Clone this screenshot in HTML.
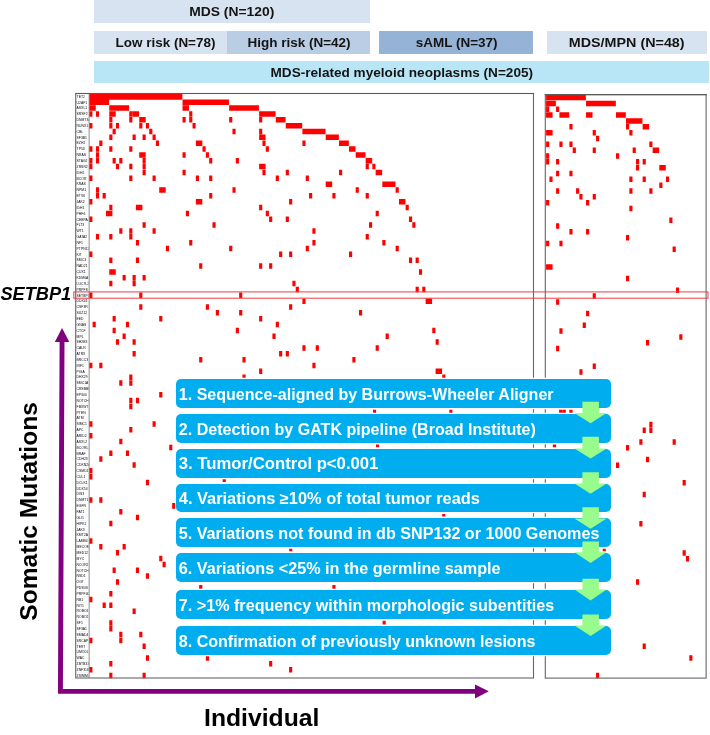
<!DOCTYPE html>
<html lang="en"><head><meta charset="utf-8"><title>Somatic mutations in MDS-related myeloid neoplasms</title>
<style>
html,body{margin:0;padding:0;background:#fff}
body{width:710px;height:735px;position:relative;overflow:hidden;font-family:"Liberation Sans",Arial,sans-serif;color:#111}
.hb{position:absolute}
.bx{position:absolute;left:175.9px;width:434.7px;background:#00aeef;border-radius:5px;box-shadow:0 0 0 1.35px #fff}
svg{position:absolute;left:0;top:0}
</style></head><body>
<div class="hb" style="left:94px;top:0;width:276.4px;height:22.7px; background:#d8e3f1"></div>
<div class="hb" style="left:94px;top:31.2px;width:132.6px;height:22.35px; background:#d8e3f1"></div>
<div class="hb" style="left:226.6px;top:31.2px;width:143.8px;height:22.35px; background:#b9cde5"></div>
<div class="hb" style="left:379px;top:31.2px;width:154.4px;height:22.35px; background:#95b3d7"></div>
<div class="hb" style="left:546.7px;top:31.2px;width:160px;height:22.35px; background:#d8e3f1"></div>
<div class="hb" style="left:94px;top:61.2px;width:614.6px;height:22.1px; background:#b8e6f7"></div>

<svg width="710" height="735" viewBox="0 0 710 735">
<path stroke="#e2eaf6" stroke-width="0.5" fill="none" d="M76.2 99.33H88.3M76.2 105.17H88.3M76.2 111.03H88.3M76.2 116.88H88.3M76.2 122.73H88.3M76.2 128.58H88.3M76.2 134.43H88.3M76.2 140.28H88.3M76.2 146.12H88.3M76.2 151.98H88.3M76.2 157.83H88.3M76.2 163.68H88.3M76.2 169.53H88.3M76.2 175.38H88.3M76.2 181.23H88.3M76.2 187.08H88.3M76.2 192.93H88.3M76.2 198.78H88.3M76.2 204.62H88.3M76.2 210.48H88.3M76.2 216.33H88.3M76.2 222.18H88.3M76.2 228.03H88.3M76.2 233.88H88.3M76.2 239.72H88.3M76.2 245.58H88.3M76.2 251.43H88.3M76.2 257.27H88.3M76.2 263.12H88.3M76.2 268.97H88.3M76.2 274.82H88.3M76.2 280.68H88.3M76.2 286.53H88.3M76.2 292.38H88.3M76.2 298.22H88.3M76.2 304.07H88.3M76.2 309.93H88.3M76.2 315.78H88.3M76.2 321.62H88.3M76.2 327.47H88.3M76.2 333.32H88.3M76.2 339.18H88.3M76.2 345.03H88.3M76.2 350.88H88.3M76.2 356.72H88.3M76.2 362.57H88.3M76.2 368.43H88.3M76.2 374.28H88.3M76.2 380.12H88.3M76.2 385.97H88.3M76.2 391.82H88.3M76.2 397.68H88.3M76.2 403.53H88.3M76.2 409.37H88.3M76.2 415.22H88.3M76.2 421.07H88.3M76.2 426.93H88.3M76.2 432.78H88.3M76.2 438.62H88.3M76.2 444.47H88.3M76.2 450.32H88.3M76.2 456.18H88.3M76.2 462.03H88.3M76.2 467.87H88.3M76.2 473.72H88.3M76.2 479.57H88.3M76.2 485.43H88.3M76.2 491.28H88.3M76.2 497.12H88.3M76.2 502.97H88.3M76.2 508.82H88.3M76.2 514.67H88.3M76.2 520.52H88.3M76.2 526.37H88.3M76.2 532.22H88.3M76.2 538.07H88.3M76.2 543.92H88.3M76.2 549.77H88.3M76.2 555.62H88.3M76.2 561.47H88.3M76.2 567.32H88.3M76.2 573.17H88.3M76.2 579.02H88.3M76.2 584.87H88.3M76.2 590.72H88.3M76.2 596.57H88.3M76.2 602.42H88.3M76.2 608.27H88.3M76.2 614.12H88.3M76.2 619.97H88.3M76.2 625.82H88.3M76.2 631.67H88.3M76.2 637.52H88.3M76.2 643.37H88.3M76.2 649.22H88.3M76.2 655.07H88.3M76.2 660.92H88.3M76.2 666.77H88.3M76.2 672.62H88.3"/>
<clipPath id="lc"><rect x="76" y="94" width="12.6" height="584"/></clipPath>
<g clip-path="url(#lc)" font-family="'Liberation Sans',Arial,sans-serif" font-size="3.4" fill="#000">
<text x="76.6" y="97.65">TET2</text>
<text x="76.6" y="103.50">U2AF1</text>
<text x="76.6" y="109.35">ASXL1</text>
<text x="76.6" y="115.20">SRSF2</text>
<text x="76.6" y="121.05">DNMT3A</text>
<text x="76.6" y="126.90">RUNX1</text>
<text x="76.6" y="132.75">CBL</text>
<text x="76.6" y="138.60">SF3B1</text>
<text x="76.6" y="144.45">EZH2</text>
<text x="76.6" y="150.30">TP53</text>
<text x="76.6" y="156.15">NRAS</text>
<text x="76.6" y="162.00">STAG2</text>
<text x="76.6" y="167.85">ZRSR2</text>
<text x="76.6" y="173.70">IDH2</text>
<text x="76.6" y="179.55">BCOR</text>
<text x="76.6" y="185.40">KRAS</text>
<text x="76.6" y="191.25">NPM1</text>
<text x="76.6" y="197.10">ETV6</text>
<text x="76.6" y="202.95">JAK2</text>
<text x="76.6" y="208.80">IDH1</text>
<text x="76.6" y="214.65">PHF6</text>
<text x="76.6" y="220.50">CEBPA</text>
<text x="76.6" y="226.35">FLT3</text>
<text x="76.6" y="232.20">WT1</text>
<text x="76.6" y="238.05">GATA2</text>
<text x="76.6" y="243.90">NF1</text>
<text x="76.6" y="249.75">PTPN11</text>
<text x="76.6" y="255.60">KIT</text>
<text x="76.6" y="261.45">SMC3</text>
<text x="76.6" y="267.30">RAD21</text>
<text x="76.6" y="273.15">CUX1</text>
<text x="76.6" y="279.00">KDM6A</text>
<text x="76.6" y="284.85">LUC7L2</text>
<text x="76.6" y="290.70">PRPF8</text>
<text x="76.6" y="296.55">SETBP1</text>
<text x="76.6" y="302.40">DDX41</text>
<text x="76.6" y="308.25">CSF3R</text>
<text x="76.6" y="314.10">SUZ12</text>
<text x="76.6" y="319.95">EED</text>
<text x="76.6" y="325.80">GNAS</text>
<text x="76.6" y="331.65">CTCF</text>
<text x="76.6" y="337.50">MPL</text>
<text x="76.6" y="343.35">SH2B3</text>
<text x="76.6" y="349.20">CALR</text>
<text x="76.6" y="355.05">ATRX</text>
<text x="76.6" y="360.90">BRCC3</text>
<text x="76.6" y="366.75">IRF1</text>
<text x="76.6" y="372.60">PIGA</text>
<text x="76.6" y="378.45">DHX29</text>
<text x="76.6" y="384.30">SMC1A</text>
<text x="76.6" y="390.15">CREBBP</text>
<text x="76.6" y="396.00">EP300</text>
<text x="76.6" y="401.85">NOTCH1</text>
<text x="76.6" y="407.70">FBXW7</text>
<text x="76.6" y="413.55">PTEN</text>
<text x="76.6" y="419.40">ATM</text>
<text x="76.6" y="425.25">SIMC1</text>
<text x="76.6" y="431.10">APC</text>
<text x="76.6" y="436.95">ARID2</text>
<text x="76.6" y="442.80">ASXL2</text>
<text x="76.6" y="448.65">BCORL1</text>
<text x="76.6" y="454.50">BRAF</text>
<text x="76.6" y="460.35">CDH23</text>
<text x="76.6" y="466.20">CDKN2A</text>
<text x="76.6" y="472.05">CSMD1</text>
<text x="76.6" y="477.90">CUL1</text>
<text x="76.6" y="483.75">DCLK1</text>
<text x="76.6" y="489.60">DDX54</text>
<text x="76.6" y="495.45">DIS3</text>
<text x="76.6" y="501.30">DNMT1</text>
<text x="76.6" y="507.15">EGFR</text>
<text x="76.6" y="513.00">FAT1</text>
<text x="76.6" y="518.85">GLI1</text>
<text x="76.6" y="524.70">HIPK2</text>
<text x="76.6" y="530.55">JAK3</text>
<text x="76.6" y="536.40">KMT2A</text>
<text x="76.6" y="542.25">LAMB4</text>
<text x="76.6" y="548.10">MECOM</text>
<text x="76.6" y="553.95">MED12</text>
<text x="76.6" y="559.80">MYC</text>
<text x="76.6" y="565.65">NCOR2</text>
<text x="76.6" y="571.50">NOTCH2</text>
<text x="76.6" y="577.35">NSD1</text>
<text x="76.6" y="583.20">OGT</text>
<text x="76.6" y="589.05">PDS5B</text>
<text x="76.6" y="594.90">PRPF40B</text>
<text x="76.6" y="600.75">RB1</text>
<text x="76.6" y="606.60">RIT1</text>
<text x="76.6" y="612.45">ROBO1</text>
<text x="76.6" y="618.30">ROBO2</text>
<text x="76.6" y="624.15">SF1</text>
<text x="76.6" y="630.00">SF3A1</text>
<text x="76.6" y="635.85">SMAD4</text>
<text x="76.6" y="641.70">SRCAP</text>
<text x="76.6" y="647.55">TERT</text>
<text x="76.6" y="653.40">UMODL1</text>
<text x="76.6" y="659.25">WAC</text>
<text x="76.6" y="665.10">ZBTB33</text>
<text x="76.6" y="670.95">ZNF318</text>
<text x="76.6" y="676.80">ZSWIM4</text>
</g>
<path fill="#ff0000" d="M89.28 93.65h3.33v6.10h-3.33zM92.61 93.65h3.33v6.10h-3.33zM95.94 93.65h3.33v6.10h-3.33zM99.27 93.65h3.33v6.10h-3.33zM102.60 93.65h3.33v6.10h-3.33zM105.93 93.65h3.33v6.10h-3.33zM109.26 93.65h3.33v6.10h-3.33zM112.59 93.65h3.33v6.10h-3.33zM115.92 93.65h3.33v6.10h-3.33zM119.25 93.65h3.33v6.10h-3.33zM122.58 93.65h3.33v6.10h-3.33zM125.91 93.65h3.33v6.10h-3.33zM129.24 93.65h3.33v6.10h-3.33zM132.57 93.65h3.33v6.10h-3.33zM135.90 93.65h3.33v6.10h-3.33zM139.23 93.65h3.33v6.10h-3.33zM142.56 93.65h3.33v6.10h-3.33zM145.89 93.65h3.33v6.10h-3.33zM149.22 93.65h3.33v6.10h-3.33zM152.55 93.65h3.33v6.10h-3.33zM155.88 93.65h3.33v6.10h-3.33zM159.21 93.65h3.33v6.10h-3.33zM162.54 93.65h3.33v6.10h-3.33zM165.87 93.65h3.33v6.10h-3.33zM169.20 93.65h3.33v6.10h-3.33zM172.53 93.65h3.33v6.10h-3.33zM175.86 93.65h3.33v6.10h-3.33zM179.19 93.65h3.15v6.10h-3.15zM89.28 99.50h3.33v5.50h-3.33zM92.61 99.50h3.33v5.50h-3.33zM95.94 99.50h3.33v5.50h-3.33zM99.27 99.50h3.33v5.50h-3.33zM102.60 99.50h3.33v5.50h-3.33zM105.93 99.50h3.15v5.50h-3.15zM182.52 99.50h3.33v5.50h-3.33zM185.85 99.50h3.33v5.50h-3.33zM189.18 99.50h3.33v5.50h-3.33zM192.51 99.50h3.33v5.50h-3.33zM195.84 99.50h3.33v5.50h-3.33zM199.17 99.50h3.33v5.50h-3.33zM202.50 99.50h3.33v5.50h-3.33zM205.83 99.50h3.33v5.50h-3.33zM209.16 99.50h3.33v5.50h-3.33zM212.49 99.50h3.33v5.50h-3.33zM215.82 99.50h3.33v5.50h-3.33zM219.15 99.50h3.33v5.50h-3.33zM222.48 99.50h3.33v5.50h-3.33zM225.81 99.50h3.15v5.50h-3.15zM89.28 105.35h3.33v5.50h-3.33zM92.61 105.35h3.15v5.50h-3.15zM109.26 105.35h3.33v5.50h-3.33zM112.59 105.35h3.33v5.50h-3.33zM115.92 105.35h3.33v5.50h-3.33zM119.25 105.35h3.33v5.50h-3.33zM122.58 105.35h3.33v5.50h-3.33zM125.91 105.35h3.15v5.50h-3.15zM182.52 105.35h3.33v5.50h-3.33zM185.85 105.35h3.15v5.50h-3.15zM229.14 105.35h3.33v5.50h-3.33zM232.47 105.35h3.33v5.50h-3.33zM235.80 105.35h3.33v5.50h-3.33zM239.13 105.35h3.33v5.50h-3.33zM242.46 105.35h3.33v5.50h-3.33zM245.79 105.35h3.33v5.50h-3.33zM249.12 105.35h3.33v5.50h-3.33zM252.45 105.35h3.33v5.50h-3.33zM255.78 105.35h3.15v5.50h-3.15zM89.28 111.20h3.15v5.50h-3.15zM95.94 111.20h3.15v5.50h-3.15zM109.26 111.20h3.33v5.50h-3.33zM112.59 111.20h3.15v5.50h-3.15zM129.24 111.20h3.15v5.50h-3.15zM132.57 111.20h3.33v5.50h-3.33zM135.90 111.20h3.15v5.50h-3.15zM189.18 111.20h3.15v5.50h-3.15zM259.11 111.20h3.33v5.50h-3.33zM262.44 111.20h3.33v5.50h-3.33zM265.77 111.20h3.33v5.50h-3.33zM269.10 111.20h3.33v5.50h-3.33zM272.43 111.20h3.15v5.50h-3.15zM109.26 117.05h3.15v5.50h-3.15zM129.24 117.05h3.15v5.50h-3.15zM139.23 117.05h3.33v5.50h-3.33zM142.56 117.05h3.15v5.50h-3.15zM182.52 117.05h3.15v5.50h-3.15zM189.18 117.05h3.15v5.50h-3.15zM229.14 117.05h3.15v5.50h-3.15zM259.11 117.05h3.15v5.50h-3.15zM275.76 117.05h3.33v5.50h-3.33zM279.09 117.05h3.33v5.50h-3.33zM282.42 117.05h3.15v5.50h-3.15zM89.28 122.90h3.15v5.50h-3.15zM109.26 122.90h3.15v5.50h-3.15zM115.92 122.90h3.15v5.50h-3.15zM139.23 122.90h3.15v5.50h-3.15zM145.89 122.90h3.15v5.50h-3.15zM192.51 122.90h3.15v5.50h-3.15zM285.75 122.90h3.33v5.50h-3.33zM289.08 122.90h3.33v5.50h-3.33zM292.41 122.90h3.33v5.50h-3.33zM295.74 122.90h3.33v5.50h-3.33zM299.07 122.90h3.15v5.50h-3.15zM112.59 128.75h3.15v5.50h-3.15zM149.22 128.75h3.15v5.50h-3.15zM232.47 128.75h3.15v5.50h-3.15zM259.11 128.75h3.15v5.50h-3.15zM302.40 128.75h3.33v5.50h-3.33zM305.73 128.75h3.33v5.50h-3.33zM309.06 128.75h3.33v5.50h-3.33zM312.39 128.75h3.33v5.50h-3.33zM315.72 128.75h3.33v5.50h-3.33zM319.05 128.75h3.33v5.50h-3.33zM322.38 128.75h3.15v5.50h-3.15zM109.26 134.60h3.15v5.50h-3.15zM132.57 134.60h3.15v5.50h-3.15zM142.56 134.60h3.15v5.50h-3.15zM152.55 134.60h3.15v5.50h-3.15zM259.11 134.60h3.33v5.50h-3.33zM262.44 134.60h3.15v5.50h-3.15zM325.71 134.60h3.33v5.50h-3.33zM329.04 134.60h3.33v5.50h-3.33zM332.37 134.60h3.33v5.50h-3.33zM335.70 134.60h3.15v5.50h-3.15zM99.27 140.45h3.15v5.50h-3.15zM155.88 140.45h3.15v5.50h-3.15zM195.84 140.45h3.33v5.50h-3.33zM199.17 140.45h3.15v5.50h-3.15zM262.44 140.45h3.15v5.50h-3.15zM302.40 140.45h3.15v5.50h-3.15zM339.03 140.45h3.33v5.50h-3.33zM342.36 140.45h3.33v5.50h-3.33zM345.69 140.45h3.15v5.50h-3.15zM89.28 146.30h3.15v5.50h-3.15zM95.94 146.30h3.15v5.50h-3.15zM109.26 146.30h3.15v5.50h-3.15zM129.24 146.30h3.15v5.50h-3.15zM202.50 146.30h3.15v5.50h-3.15zM265.77 146.30h3.15v5.50h-3.15zM349.02 146.30h3.33v5.50h-3.33zM352.35 146.30h3.15v5.50h-3.15zM95.94 152.15h3.15v5.50h-3.15zM139.23 152.15h3.33v5.50h-3.33zM142.56 152.15h3.15v5.50h-3.15zM182.52 152.15h3.15v5.50h-3.15zM205.83 152.15h3.15v5.50h-3.15zM355.68 152.15h3.33v5.50h-3.33zM359.01 152.15h3.33v5.50h-3.33zM362.34 152.15h3.15v5.50h-3.15zM89.28 158.00h3.15v5.50h-3.15zM95.94 158.00h3.15v5.50h-3.15zM112.59 158.00h3.15v5.50h-3.15zM119.25 158.00h3.15v5.50h-3.15zM142.56 158.00h3.15v5.50h-3.15zM209.16 158.00h3.15v5.50h-3.15zM235.80 158.00h3.15v5.50h-3.15zM365.67 158.00h3.33v5.50h-3.33zM369.00 158.00h3.15v5.50h-3.15zM89.28 163.85h3.15v5.50h-3.15zM115.92 163.85h3.15v5.50h-3.15zM129.24 163.85h3.15v5.50h-3.15zM142.56 163.85h3.15v5.50h-3.15zM259.11 163.85h3.33v5.50h-3.33zM262.44 163.85h3.15v5.50h-3.15zM365.67 163.85h3.15v5.50h-3.15zM372.33 163.85h3.15v5.50h-3.15zM142.56 169.70h3.15v5.50h-3.15zM182.52 169.70h3.15v5.50h-3.15zM262.44 169.70h3.15v5.50h-3.15zM285.75 169.70h3.15v5.50h-3.15zM339.03 169.70h3.15v5.50h-3.15zM375.66 169.70h3.33v5.50h-3.33zM378.99 169.70h3.15v5.50h-3.15zM89.28 175.55h3.15v5.50h-3.15zM129.24 175.55h3.15v5.50h-3.15zM152.55 175.55h3.15v5.50h-3.15zM195.84 175.55h3.15v5.50h-3.15zM209.16 175.55h3.15v5.50h-3.15zM275.76 175.55h3.15v5.50h-3.15zM305.73 175.55h3.15v5.50h-3.15zM325.71 181.40h3.33v5.50h-3.33zM329.04 181.40h3.15v5.50h-3.15zM382.32 181.40h3.33v5.50h-3.33zM385.65 181.40h3.33v5.50h-3.33zM388.98 181.40h3.33v5.50h-3.33zM392.31 181.40h3.15v5.50h-3.15zM95.94 187.25h3.15v5.50h-3.15zM159.21 187.25h3.33v5.50h-3.33zM162.54 187.25h3.15v5.50h-3.15zM232.47 187.25h3.15v5.50h-3.15zM355.68 187.25h3.15v5.50h-3.15zM395.64 187.25h3.15v5.50h-3.15zM95.94 193.10h3.15v5.50h-3.15zM102.60 193.10h3.15v5.50h-3.15zM209.16 193.10h3.15v5.50h-3.15zM309.06 193.10h3.15v5.50h-3.15zM332.37 193.10h3.15v5.50h-3.15zM365.67 193.10h3.15v5.50h-3.15zM89.28 198.95h3.15v5.50h-3.15zM195.84 198.95h3.33v5.50h-3.33zM199.17 198.95h3.15v5.50h-3.15zM289.08 198.95h3.15v5.50h-3.15zM398.97 198.95h3.33v5.50h-3.33zM402.30 198.95h3.15v5.50h-3.15zM109.26 204.80h3.15v5.50h-3.15zM135.90 204.80h3.33v5.50h-3.33zM139.23 204.80h3.15v5.50h-3.15zM259.11 204.80h3.15v5.50h-3.15zM405.63 204.80h3.15v5.50h-3.15zM105.93 210.65h3.33v5.50h-3.33zM109.26 210.65h3.15v5.50h-3.15zM185.85 210.65h3.15v5.50h-3.15zM265.77 210.65h3.15v5.50h-3.15zM375.66 210.65h3.15v5.50h-3.15zM89.28 216.50h3.15v5.50h-3.15zM269.10 216.50h3.15v5.50h-3.15zM285.75 216.50h3.15v5.50h-3.15zM408.96 216.50h3.15v5.50h-3.15zM142.56 222.35h3.15v5.50h-3.15zM212.49 222.35h3.15v5.50h-3.15zM369.00 222.35h3.15v5.50h-3.15zM412.29 222.35h3.15v5.50h-3.15zM119.25 228.20h3.15v5.50h-3.15zM129.24 228.20h3.15v5.50h-3.15zM152.55 228.20h3.15v5.50h-3.15zM312.39 228.20h3.15v5.50h-3.15zM95.94 234.05h3.15v5.50h-3.15zM109.26 234.05h3.15v5.50h-3.15zM129.24 234.05h3.15v5.50h-3.15zM365.67 234.05h3.15v5.50h-3.15zM135.90 239.90h3.15v5.50h-3.15zM189.18 239.90h3.15v5.50h-3.15zM312.39 239.90h3.15v5.50h-3.15zM382.32 239.90h3.15v5.50h-3.15zM165.87 245.75h3.15v5.50h-3.15zM229.14 245.75h3.15v5.50h-3.15zM305.73 245.75h3.15v5.50h-3.15zM395.64 245.75h3.15v5.50h-3.15zM89.28 251.60h3.15v5.50h-3.15zM279.09 251.60h3.15v5.50h-3.15zM289.08 251.60h3.15v5.50h-3.15zM349.02 251.60h3.15v5.50h-3.15zM109.26 257.45h3.15v5.50h-3.15zM135.90 257.45h3.15v5.50h-3.15zM408.96 257.45h3.15v5.50h-3.15zM415.62 257.45h3.15v5.50h-3.15zM199.17 263.30h3.15v5.50h-3.15zM259.11 263.30h3.15v5.50h-3.15zM269.10 263.30h3.15v5.50h-3.15zM109.26 269.15h3.33v5.50h-3.33zM112.59 269.15h3.15v5.50h-3.15zM418.95 269.15h3.15v5.50h-3.15zM122.58 275.00h3.15v5.50h-3.15zM132.57 275.00h3.15v5.50h-3.15zM142.56 275.00h3.15v5.50h-3.15zM109.26 280.85h3.15v5.50h-3.15zM132.57 280.85h3.15v5.50h-3.15zM292.41 280.85h3.15v5.50h-3.15zM295.74 286.70h3.15v5.50h-3.15zM415.62 286.70h3.15v5.50h-3.15zM422.28 286.70h3.15v5.50h-3.15zM89.28 292.55h3.15v5.50h-3.15zM139.23 292.55h3.15v5.50h-3.15zM239.13 292.55h3.15v5.50h-3.15zM302.40 298.40h3.15v5.50h-3.15zM425.61 298.40h3.33v5.50h-3.33zM428.94 298.40h3.15v5.50h-3.15zM139.23 304.25h3.15v5.50h-3.15zM205.83 304.25h3.15v5.50h-3.15zM289.08 304.25h3.15v5.50h-3.15zM215.82 310.10h3.15v5.50h-3.15zM239.13 310.10h3.15v5.50h-3.15zM359.01 310.10h3.15v5.50h-3.15zM112.59 315.95h3.15v5.50h-3.15zM159.21 315.95h3.15v5.50h-3.15zM259.11 315.95h3.15v5.50h-3.15zM92.61 321.80h3.15v5.50h-3.15zM125.91 321.80h3.15v5.50h-3.15zM275.76 321.80h3.15v5.50h-3.15zM112.59 327.65h3.15v5.50h-3.15zM235.80 327.65h3.15v5.50h-3.15zM432.27 327.65h3.15v5.50h-3.15zM122.58 333.50h3.15v5.50h-3.15zM272.43 333.50h3.15v5.50h-3.15zM385.65 333.50h3.15v5.50h-3.15zM115.92 339.35h3.15v5.50h-3.15zM132.57 339.35h3.15v5.50h-3.15zM435.60 339.35h3.15v5.50h-3.15zM302.40 345.20h3.15v5.50h-3.15zM315.72 345.20h3.15v5.50h-3.15zM375.66 345.20h3.15v5.50h-3.15zM132.57 351.05h3.15v5.50h-3.15zM279.09 351.05h3.15v5.50h-3.15zM285.75 351.05h3.15v5.50h-3.15zM199.17 356.90h3.15v5.50h-3.15zM242.46 356.90h3.15v5.50h-3.15zM352.35 356.90h3.15v5.50h-3.15zM89.28 362.75h3.15v5.50h-3.15zM99.27 362.75h3.15v5.50h-3.15zM312.39 362.75h3.15v5.50h-3.15zM259.11 368.60h3.15v5.50h-3.15zM435.60 368.60h3.33v5.50h-3.33zM438.93 368.60h3.15v5.50h-3.15zM129.24 374.45h3.15v5.50h-3.15zM242.46 374.45h3.15v5.50h-3.15zM442.26 374.45h3.15v5.50h-3.15zM119.25 380.30h3.15v5.50h-3.15zM129.24 380.30h3.15v5.50h-3.15zM159.21 392.00h3.15v5.50h-3.15zM129.24 397.85h3.15v5.50h-3.15zM135.90 397.85h3.15v5.50h-3.15zM129.24 403.70h3.15v5.50h-3.15zM89.28 421.25h3.15v5.50h-3.15zM152.55 421.25h3.15v5.50h-3.15zM129.24 427.10h3.15v5.50h-3.15zM89.28 432.95h3.15v5.50h-3.15zM119.25 438.80h3.15v5.50h-3.15zM169.20 444.65h3.15v5.50h-3.15zM109.26 450.50h3.15v5.50h-3.15zM125.91 450.50h3.15v5.50h-3.15zM99.27 456.35h3.15v5.50h-3.15zM132.57 462.20h3.15v5.50h-3.15zM89.28 468.05h3.15v5.50h-3.15zM89.28 473.90h3.15v5.50h-3.15zM145.89 479.75h3.15v5.50h-3.15zM89.28 497.30h3.15v5.50h-3.15zM99.27 497.30h3.15v5.50h-3.15zM172.53 503.15h3.15v5.50h-3.15zM119.25 509.00h3.15v5.50h-3.15zM135.90 514.85h3.15v5.50h-3.15zM109.26 520.70h3.15v5.50h-3.15zM89.28 538.25h3.15v5.50h-3.15zM99.27 544.10h3.15v5.50h-3.15zM122.58 544.10h3.15v5.50h-3.15zM115.92 549.95h3.15v5.50h-3.15zM159.21 555.80h3.15v5.50h-3.15zM162.54 561.65h3.15v5.50h-3.15zM112.59 567.50h3.15v5.50h-3.15zM135.90 567.50h3.15v5.50h-3.15zM145.89 573.35h3.15v5.50h-3.15zM115.92 579.20h3.15v5.50h-3.15zM199.17 585.05h3.15v5.50h-3.15zM332.37 585.05h3.15v5.50h-3.15zM109.26 590.90h3.15v5.50h-3.15zM89.28 596.75h3.15v5.50h-3.15zM102.60 602.60h3.15v5.50h-3.15zM109.26 602.60h3.15v5.50h-3.15zM132.57 608.45h3.15v5.50h-3.15zM109.26 620.15h3.15v5.50h-3.15zM109.26 626.00h3.15v5.50h-3.15zM119.25 631.85h3.15v5.50h-3.15zM139.23 631.85h3.15v5.50h-3.15zM89.28 637.70h3.15v5.50h-3.15zM119.25 637.70h3.15v5.50h-3.15zM142.56 643.55h3.15v5.50h-3.15zM145.89 655.25h3.15v5.50h-3.15zM205.83 655.25h3.15v5.50h-3.15zM109.26 661.10h3.15v5.50h-3.15zM269.10 661.10h3.15v5.50h-3.15zM89.28 666.95h3.15v5.50h-3.15zM289.08 666.95h3.15v5.50h-3.15zM109.26 672.80h3.15v5.50h-3.15zM142.56 672.80h3.15v5.50h-3.15z"/>
<path fill="#ff0000" d="M546.08 94.85h3.33v5.50h-3.33zM549.41 94.85h3.33v5.50h-3.33zM552.74 94.85h3.33v5.50h-3.33zM556.07 94.85h3.33v5.50h-3.33zM559.40 94.85h3.33v5.50h-3.33zM562.73 94.85h3.33v5.50h-3.33zM566.06 94.85h3.33v5.50h-3.33zM569.39 94.85h3.33v5.50h-3.33zM572.72 94.85h3.33v5.50h-3.33zM576.05 94.85h3.33v5.50h-3.33zM579.38 94.85h3.33v5.50h-3.33zM582.71 94.85h3.15v5.50h-3.15zM546.08 100.69h3.33v5.50h-3.33zM549.41 100.69h3.33v5.50h-3.33zM552.74 100.69h3.15v5.50h-3.15zM586.04 100.69h3.33v5.50h-3.33zM589.37 100.69h3.33v5.50h-3.33zM592.70 100.69h3.33v5.50h-3.33zM596.03 100.69h3.33v5.50h-3.33zM599.36 100.69h3.33v5.50h-3.33zM602.69 100.69h3.33v5.50h-3.33zM606.02 100.69h3.33v5.50h-3.33zM609.35 100.69h3.33v5.50h-3.33zM612.68 100.69h3.15v5.50h-3.15zM546.08 106.52h3.15v5.50h-3.15zM556.07 106.52h3.15v5.50h-3.15zM546.08 112.36h3.33v5.50h-3.33zM549.41 112.36h3.15v5.50h-3.15zM559.40 112.36h3.33v5.50h-3.33zM562.73 112.36h3.33v5.50h-3.33zM566.06 112.36h3.15v5.50h-3.15zM586.04 112.36h3.33v5.50h-3.33zM589.37 112.36h3.15v5.50h-3.15zM616.01 112.36h3.33v5.50h-3.33zM619.34 112.36h3.33v5.50h-3.33zM622.67 112.36h3.15v5.50h-3.15zM626.00 118.20h3.33v5.50h-3.33zM629.33 118.20h3.33v5.50h-3.33zM632.66 118.20h3.33v5.50h-3.33zM635.99 118.20h3.33v5.50h-3.33zM639.32 118.20h3.15v5.50h-3.15zM569.39 124.04h3.15v5.50h-3.15zM626.00 124.04h3.15v5.50h-3.15zM642.65 124.04h3.33v5.50h-3.33zM645.98 124.04h3.15v5.50h-3.15zM546.08 129.88h3.33v5.50h-3.33zM549.41 129.88h3.15v5.50h-3.15zM592.70 129.88h3.15v5.50h-3.15zM629.33 129.88h3.15v5.50h-3.15zM596.03 135.71h3.15v5.50h-3.15zM546.08 141.55h3.15v5.50h-3.15zM559.40 141.55h3.15v5.50h-3.15zM569.39 141.55h3.15v5.50h-3.15zM649.31 141.55h3.15v5.50h-3.15zM572.72 147.39h3.15v5.50h-3.15zM592.70 147.39h3.15v5.50h-3.15zM632.66 147.39h3.15v5.50h-3.15zM652.64 147.39h3.33v5.50h-3.33zM655.97 147.39h3.15v5.50h-3.15zM546.08 153.22h3.15v5.50h-3.15zM616.01 153.22h3.15v5.50h-3.15zM546.08 159.06h3.15v5.50h-3.15zM556.07 159.06h3.15v5.50h-3.15zM635.99 159.06h3.15v5.50h-3.15zM642.65 159.06h3.15v5.50h-3.15zM635.99 164.90h3.15v5.50h-3.15zM659.30 164.90h3.33v5.50h-3.33zM662.63 164.90h3.15v5.50h-3.15zM556.07 170.74h3.15v5.50h-3.15zM569.39 170.74h3.15v5.50h-3.15zM549.41 176.57h3.15v5.50h-3.15zM629.33 176.57h3.15v5.50h-3.15zM642.65 176.57h3.15v5.50h-3.15zM665.96 176.57h3.15v5.50h-3.15zM659.30 182.41h3.15v5.50h-3.15zM556.07 188.25h3.15v5.50h-3.15zM576.05 188.25h3.15v5.50h-3.15zM629.33 188.25h3.15v5.50h-3.15zM649.31 188.25h3.15v5.50h-3.15zM579.38 194.09h3.15v5.50h-3.15zM592.70 194.09h3.15v5.50h-3.15zM546.08 199.93h3.15v5.50h-3.15zM586.04 199.93h3.15v5.50h-3.15zM629.33 205.76h3.15v5.50h-3.15zM669.29 217.44h3.15v5.50h-3.15zM556.07 223.28h3.15v5.50h-3.15zM569.39 229.11h3.15v5.50h-3.15zM586.04 229.11h3.15v5.50h-3.15zM626.00 234.95h3.15v5.50h-3.15zM546.08 240.79h3.15v5.50h-3.15zM559.40 240.79h3.15v5.50h-3.15zM672.62 246.62h3.15v5.50h-3.15zM546.08 264.14h3.33v5.50h-3.33zM549.41 264.14h3.15v5.50h-3.15zM626.00 275.81h3.15v5.50h-3.15zM675.95 287.49h3.15v5.50h-3.15zM592.70 293.33h3.15v5.50h-3.15zM556.07 299.16h3.15v5.50h-3.15zM586.04 310.84h3.15v5.50h-3.15zM582.71 322.51h3.15v5.50h-3.15zM559.40 328.35h3.15v5.50h-3.15zM679.28 334.19h3.15v5.50h-3.15zM645.98 340.02h3.15v5.50h-3.15zM556.07 345.86h3.15v5.50h-3.15zM592.70 363.38h3.15v5.50h-3.15zM579.38 369.21h3.15v5.50h-3.15zM649.31 421.75h3.15v5.50h-3.15zM642.65 427.59h3.15v5.50h-3.15zM649.31 427.59h3.15v5.50h-3.15zM639.32 439.26h3.15v5.50h-3.15zM672.62 439.26h3.15v5.50h-3.15zM626.00 445.10h3.15v5.50h-3.15zM645.98 456.77h3.15v5.50h-3.15zM616.01 462.61h3.15v5.50h-3.15zM682.61 480.12h3.15v5.50h-3.15zM642.65 491.80h3.15v5.50h-3.15zM639.32 520.99h3.15v5.50h-3.15zM682.61 550.18h3.15v5.50h-3.15zM685.94 556.01h3.15v5.50h-3.15zM635.99 579.36h3.15v5.50h-3.15zM642.65 643.58h3.15v5.50h-3.15zM689.27 655.25h3.15v5.50h-3.15zM596.03 672.76h3.15v5.50h-3.15z"/>
<g fill="none" stroke="#666" stroke-width="1.1"><rect x="75.7" y="93.5" width="457.8" height="584.5"/><rect x="545.3" y="94.6" width="160.8" height="583.5"/><path stroke="#707070" stroke-width="0.8" d="M89.15 94V678"/><path stroke="#5a5a5a" d="M75.2 93.5H534M544.8 94.6H706.8"/></g>
<rect x="73.8" y="291.9" width="634.2" height="6.3" fill="none" stroke="#ee3d40" stroke-width="1"/>
</svg>
<div class="bx" style="top:379.3px;height:28.8px"></div>
<div class="bx" style="top:414.0px;height:29.0px"></div>
<div class="bx" style="top:449.0px;height:28.6px"></div>
<div class="bx" style="top:483.9px;height:28.6px"></div>
<div class="bx" style="top:518.3px;height:29.0px"></div>
<div class="bx" style="top:552.8px;height:29.1px"></div>
<div class="bx" style="top:590.1px;height:29.2px"></div>
<div class="bx" style="top:626.1px;height:29.2px"></div>
<svg width="710" height="735" viewBox="0 0 710 735">
<path fill="#ff0000" d="M373.0 409.8h3.1v2.9h-3.1zM449.3 409.8h3.1v2.9h-3.1zM376.0 444.4h3.1v2.9h-3.1zM559.1 409.8h3.2v2.9h-3.2zM562.5 409.8h3.3v2.9h-3.3zM569.3 409.8h3.3v2.9h-3.3zM552.8 444.4h3.3v2.9h-3.3zM222.7 479.3h3.1v2.7h-3.1zM442.2 514.0h3.1v2.6h-3.1zM289.2 548.8h3.1v2.4h-3.1zM602.7 548.8h3.1v2.4h-3.1zM382.6 620.7h3.1v3.8h-3.1zM172.3 503.0h2.9v5.6h-2.9z"/>
<path fill="#98fc8c" d="M582.4 401.7H598.9V413.1H606.6L590.6 423.2L574.4 413.1H582.4zM582.4 436.7H598.9V448.4H606.6L590.6 458.5L574.4 448.4H582.4zM582.4 472.3H598.9V483.6H606.6L590.6 493.8L574.4 483.6H582.4zM582.4 507.2H598.9V518.6H606.6L590.6 528.7L574.4 518.6H582.4zM582.4 541.4H598.9V552.3H606.6L590.6 563.0L574.4 552.3H582.4zM582.4 578.7H598.9V589.6H606.6L590.6 600.5L574.4 589.6H582.4zM582.4 614.5H598.9V625.4H606.6L590.6 636.0L574.4 625.4H582.4z"/>
<path fill="#800080" d="M59.6 341.5H64.5L62.9 688.9H475V684.4L488.8 691.3L475 698.4V693.8H57.95z"/>
<path fill="#800080" d="M62.05 328L69.3 342H54.8z"/>
</svg>
<svg width="710" height="735" viewBox="0 0 710 735" font-family="'Liberation Sans',Arial,sans-serif" font-weight="bold">
<g font-size="13" fill="#141414">
<text id="h0" x="189.2" y="16.2" textLength="85.2" lengthAdjust="spacingAndGlyphs">MDS (N=120)</text>
<text id="h1" x="115.6" y="47.1" textLength="99.8" lengthAdjust="spacingAndGlyphs">Low risk (N=78)</text>
<text id="h2" x="247.5" y="47.1" textLength="103.1" lengthAdjust="spacingAndGlyphs">High risk (N=42)</text>
<text id="h3" x="415.8" y="47.1" textLength="81.8" lengthAdjust="spacingAndGlyphs">sAML (N=37)</text>
<text id="h4" x="568.8" y="47.1" textLength="115.8" lengthAdjust="spacingAndGlyphs">MDS/MPN (N=48)</text>
<text id="h5" x="270.5" y="77.1" textLength="262.6" lengthAdjust="spacingAndGlyphs">MDS-related myeloid neoplasms (N=205)</text>
</g>
<g font-size="15.8" fill="#fff">
<text id="bt0" x="178.8" y="399.85" textLength="374.8" lengthAdjust="spacingAndGlyphs">1. Sequence-aligned by Burrows-Wheeler Aligner</text>
<text id="bt1" x="178.8" y="434.65" textLength="357.1" lengthAdjust="spacingAndGlyphs">2. Detection by GATK pipeline (Broad Institute)</text>
<text id="bt2" x="178.8" y="469.45" textLength="199.6" lengthAdjust="spacingAndGlyphs">3. Tumor/Control p&lt;0.001</text>
<text id="bt3" x="178.8" y="504.35" textLength="301.1" lengthAdjust="spacingAndGlyphs">4. Variations ≥10% of total tumor reads</text>
<text id="bt4" x="178.8" y="538.95" textLength="420.6" lengthAdjust="spacingAndGlyphs">5. Variations not found in db SNP132 or 1000 Genomes</text>
<text id="bt5" x="178.8" y="573.50" textLength="321.8" lengthAdjust="spacingAndGlyphs">6. Variations &lt;25% in the germline sample</text>
<text id="bt6" x="178.8" y="610.85" textLength="375.4" lengthAdjust="spacingAndGlyphs">7. &gt;1% frequency within morphologic subentities</text>
<text id="bt7" x="178.8" y="646.85" textLength="356.6" lengthAdjust="spacingAndGlyphs">8. Confirmation of previously unknown lesions</text>
</g>
</svg>
<svg width="710" height="735" viewBox="0 0 710 735" font-family="'Liberation Sans',Arial,sans-serif" font-weight="bold" fill="#000">
<text id="setbp" x="0.4" y="300.3" font-size="18.2" font-style="italic">SETBP1</text>
<text id="som" font-size="24.6" transform="translate(37.2 620.7) rotate(-90)">Somatic Mutations</text>
<text id="ind" x="204.1" y="725.6" font-size="24.7">Individual</text>
</svg>
</body></html>
